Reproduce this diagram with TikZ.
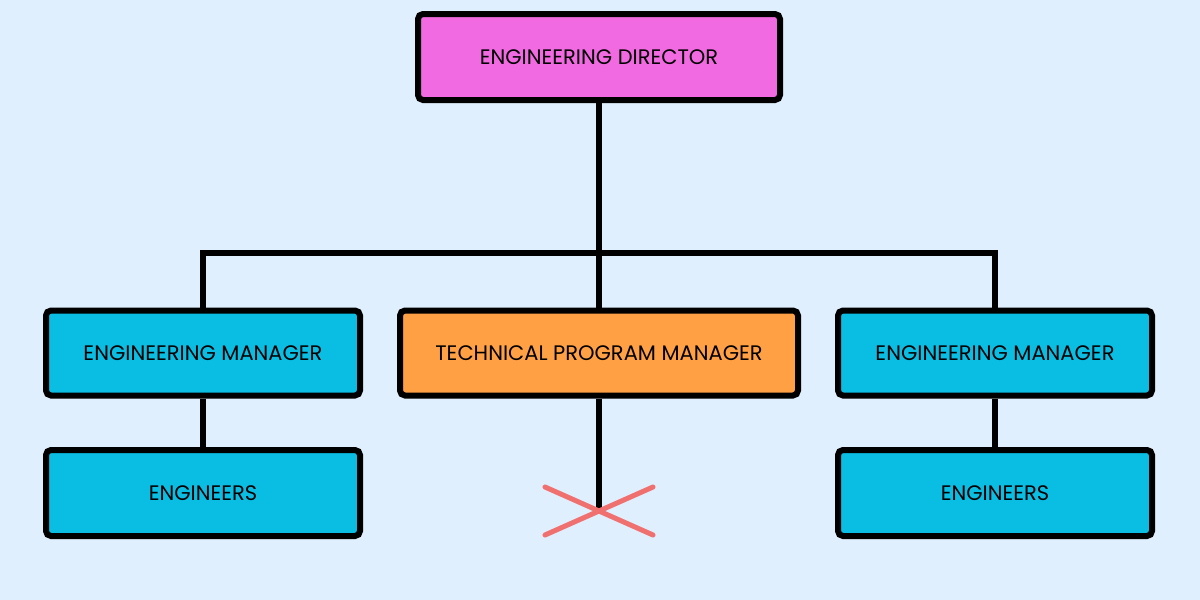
\documentclass[tikz,border=0pt]{standalone}
\usepackage{fontspec}
\setmainfont{Poppins}
\definecolor{bg}{HTML}{E0EFFD}
\definecolor{mag}{HTML}{F26AE2}
\definecolor{cy}{HTML}{0ABDE3}
\definecolor{org}{HTML}{FFA044}
\definecolor{xr}{HTML}{F07070}
\begin{document}
\begin{tikzpicture}[x=1pt,y=-1pt,
 box/.style={draw=black,line width=6pt,rounded corners=5pt,inner sep=0pt,font=\fontsize{21}{24}\selectfont,text=black},
 ln/.style={line width=6pt,draw=black}]
\fill[bg] (0,0) rectangle (1200,600);
\useasboundingbox (0,0) rectangle (1200,600);
\node[box,fill=mag,minimum width=362pt,minimum height=86pt] (dir) at (599,57) {ENGINEERING DIRECTOR};
\node[box,fill=cy,minimum width=314pt,minimum height=85pt] (eml) at (203,353) {ENGINEERING MANAGER};
\node[box,fill=org,minimum width=398pt,minimum height=85pt] (tpm) at (599,353) {TECHNICAL PROGRAM MANAGER};
\node[box,fill=cy,minimum width=314pt,minimum height=85pt] (emr) at (995,353) {ENGINEERING MANAGER};
\node[box,fill=cy,minimum width=314pt,minimum height=86pt] (enl) at (203,493) {ENGINEERS};
\node[box,fill=cy,minimum width=314pt,minimum height=86pt] (enr) at (995,493) {ENGINEERS};
\coordinate (hl) at (203,253);
\coordinate (hr) at (995,253);
\coordinate (xc) at (599,511);
\draw[ln] (dir.south) -- (tpm.north);
\draw[ln,line join=miter] (eml.north) -- (hl) -- (hr) -- (emr.north);
\draw[ln] (eml.south) -- (enl.north);
\draw[ln] (emr.south) -- (enr.north);
\draw[ln] (tpm.south) -- (xc);
\draw[xr,line width=5pt,line cap=round] (545,487) -- (653,535) (545,535) -- (653,487);
\end{tikzpicture}
\end{document}
